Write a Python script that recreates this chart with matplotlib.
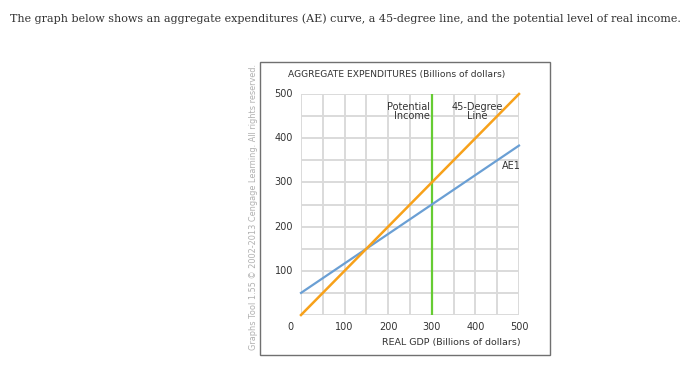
import matplotlib.pyplot as plt
from matplotlib.patches import Rectangle

# data
gdp = [0, 500]
ae1 = [50, 383.3]
line45 = [0, 500]
potential_income = 300
ticks = [100, 200, 300, 400, 500]

cond = ['Liberation Sans Narrow', 'DejaVu Sans']
plt.rcParams['font.family'] = cond

fig = plt.figure(figsize=(6.94, 3.67), dpi=100)
W, H = 694, 367

def fx(px):
    return px / W

def fy(py):
    return 1 - py / H

# header sentence
fig.text(fx(10), fy(19), 'The graph below shows an aggregate expenditures (AE) curve, '
         'a 45-degree line, and the potential level of real income.',
         family='DejaVu Serif', fontsize=8.05, color='#333333', va='center', ha='left')

# outer frame
fig.patches.append(Rectangle((fx(260), fy(355)), fx(550) - fx(260), fy(62) - fy(355),
                             transform=fig.transFigure, fill=False,
                             edgecolor='#707070', linewidth=1))

ax = fig.add_axes([fx(301), fy(315), fx(519) - fx(301), fy(94) - fy(315)])
ax.set_xlim(0, 500)
ax.set_ylim(0, 500)
ax.set_xticks(range(0, 501, 50))
ax.set_yticks(range(0, 501, 50))
ax.grid(True, color='#dadada', linewidth=1.4)
ax.set_axisbelow(True)
for s in ax.spines.values():
    s.set_visible(False)
ax.tick_params(length=0, labelbottom=False, labelleft=False)

ax.plot([potential_income, potential_income], [0, 500], color='#66cc33', lw=1.6,
        solid_capstyle='butt', clip_on=False)
ax.plot(gdp, ae1, color='#6a9fd4', lw=1.6, clip_on=False)
ax.plot(gdp, line45, color='#f7a11a', lw=1.8, clip_on=False)

# tick labels
for t in ticks:
    ax.text(t, -28, str(t), ha='center', va='center', fontsize=7, color='#333333')
    ax.text(-18, t, str(t), ha='right', va='center', fontsize=7, color='#333333')
ax.text(-25, -28, '0', ha='center', va='center', fontsize=7, color='#333333')

ax.text(296, 482, 'Potential\nIncome', ha='right', va='top', fontsize=7,
        color='#333333', linespacing=0.9)
ax.text(404, 482, '45-Degree\nLine', ha='center', va='top', fontsize=7,
        color='#333333', linespacing=0.9)
ax.text(483, 336, 'AE1', ha='center', va='center', fontsize=7, color='#333333')

fig.text(fx(288), fy(74), 'AGGREGATE EXPENDITURES (Billions of dollars)',
         ha='left', va='center', fontsize=6.6, color='#333333')
fig.text(fx(521), fy(342), 'REAL GDP (Billions of dollars)',
         ha='right', va='center', fontsize=6.8, color='#333333')
fig.text(fx(253), fy(207), 'Graphs Tool 1.55 \u00a9 2002-2013 Cengage Learning. All rights reserved.',
         rotation=90, ha='center', va='center', fontsize=5.9, color='#b0b0b0',
         family='DejaVu Sans')

fig.savefig('out.png', dpi=100)
